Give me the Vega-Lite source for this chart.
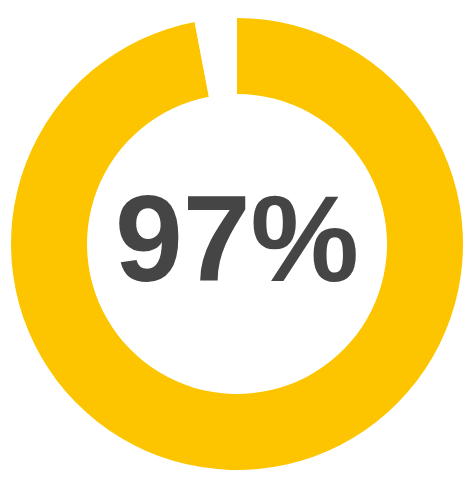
{
  "$schema": "https://vega.github.io/schema/vega-lite/v6.json",
  "width": 474,
  "height": 482,
  "autosize": {"type": "fit", "contains": "padding"},
  "padding": {"left": 0, "right": 0, "top": 6, "bottom": 0},
  "background": "white",
  "config": {"view": {"stroke": null}},
  "layer": [
    {
      "data": {
        "values": [
          {"part": "done", "order": 1, "value": 97},
          {"part": "rest", "order": 2, "value": 3}
        ]
      },
      "mark": {"type": "arc", "radius": 226, "radius2": 150},
      "encoding": {
        "theta": {"field": "value", "type": "quantitative", "stack": true},
        "order": {"field": "order", "type": "quantitative"},
        "color": {
          "field": "part",
          "type": "nominal",
          "scale": {"domain": ["done", "rest"], "range": ["#FCC500", "#FFFFFF"]},
          "legend": null
        }
      }
    },
    {
      "data": {"values": [{"label": "97%"}]},
      "mark": {
        "type": "text",
        "font": "Liberation Sans",
        "fontWeight": "bold",
        "fontSize": 122,
        "color": "#454545",
        "align": "center",
        "baseline": "middle",
        "dy": 0
      },
      "encoding": {
        "text": {"field": "label", "type": "nominal"}
      }
    }
  ]
}
